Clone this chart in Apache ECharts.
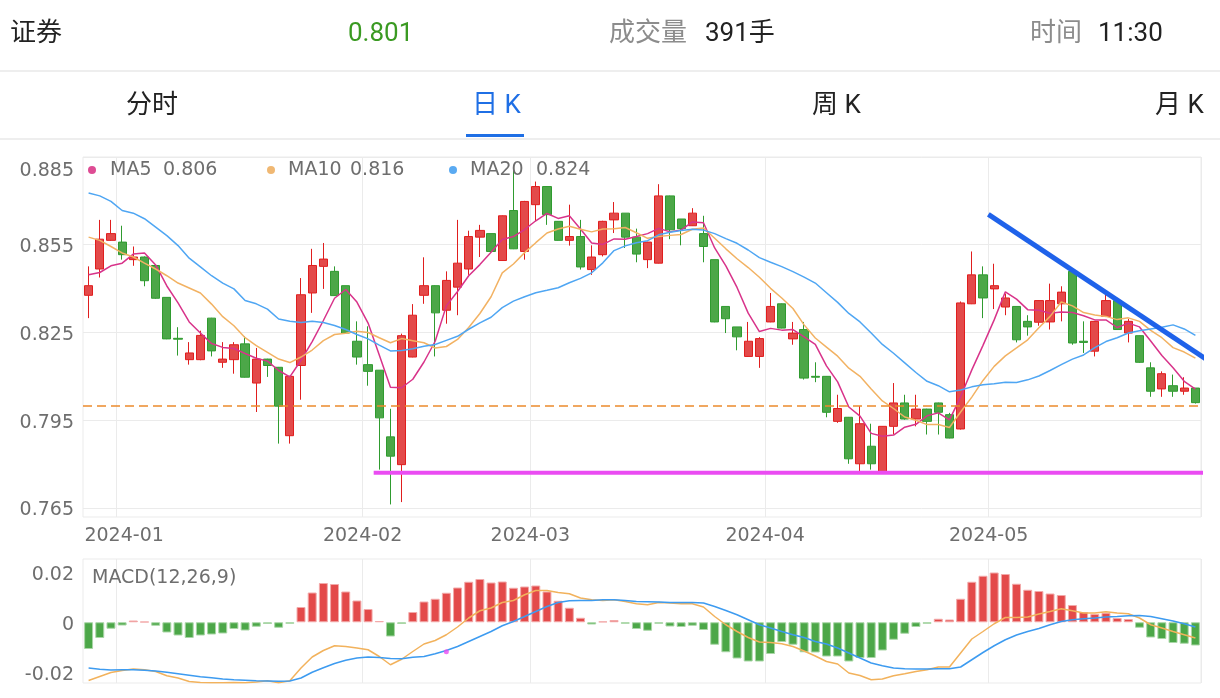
<!DOCTYPE html>
<html><head><meta charset="utf-8">
<script src="https://cdn.jsdelivr.net/npm/echarts@6/dist/echarts.min.js"></script>
<style>html,body{margin:0;padding:0;background:#fff;}#c{width:1220px;height:698px;}</style>
</head><body><div id="c"></div>
<script>
const dates = [
'2023-12-27','2023-12-28','2023-12-29',
'2024-01-02','2024-01-03','2024-01-04','2024-01-05','2024-01-08','2024-01-09','2024-01-10','2024-01-11','2024-01-12',
'2024-01-15','2024-01-16','2024-01-17','2024-01-18','2024-01-19','2024-01-22','2024-01-23','2024-01-24','2024-01-25',
'2024-01-26','2024-01-29','2024-01-30','2024-01-31',
'2024-02-01','2024-02-02','2024-02-05','2024-02-06','2024-02-07','2024-02-08','2024-02-19','2024-02-20','2024-02-21',
'2024-02-22','2024-02-23','2024-02-26','2024-02-27','2024-02-28','2024-02-29',
'2024-03-01','2024-03-04','2024-03-05','2024-03-06','2024-03-07','2024-03-08','2024-03-11','2024-03-12','2024-03-13',
'2024-03-14','2024-03-15','2024-03-18','2024-03-19','2024-03-20','2024-03-21','2024-03-22','2024-03-25','2024-03-26',
'2024-03-27','2024-03-28','2024-03-29',
'2024-04-01','2024-04-02','2024-04-03','2024-04-08','2024-04-09','2024-04-10','2024-04-11','2024-04-12','2024-04-15',
'2024-04-16','2024-04-17','2024-04-18','2024-04-19','2024-04-22','2024-04-23','2024-04-24','2024-04-25','2024-04-26',
'2024-04-29','2024-04-30',
'2024-05-06','2024-05-07','2024-05-08','2024-05-09','2024-05-10','2024-05-13','2024-05-14','2024-05-15','2024-05-16',
'2024-05-17','2024-05-20','2024-05-21','2024-05-22','2024-05-23','2024-05-24','2024-05-27','2024-05-28','2024-05-29',
'2024-05-30'];

const opens = [
.8377,.8467,.8565,.8559,.8499,.8508,.8479,.8370,.8230,.8157,
.8157,.8299,.8148,.8157,.8211,.8077,.8159,.8131,.7897,.8137,
.8385,.8476,.8459,.8410,.8220,.8140,.8121,.7893,.7798,.8166,
.8377,.8410,.8326,.8405,.8467,.8576,.8588,.8496,.8667,.8527,
.8687,.8749,.8630,.8565,.8578,.8465,.8516,.8635,.8658,.8576,
.8499,.8487,.8717,.8638,.8615,.8588,.8499,.8339,.8269,.8168,
.8168,.8286,.8348,.8228,.8260,.8100,.8100,.7946,.7960,.7801,
.7861,.7775,.7929,.8009,.7954,.7988,.8009,.7969,.7920,.8348,
.8447,.8399,.8337,.8339,.8288,.8285,.8286,.8348,.8459,.8220,
.8186,.8305,.8359,.8248,.8239,.8129,.8057,.8068,.8049,.8060];

const closes = [
.8410,.8569,.8588,.8516,.8508,.8427,.8367,.8228,.8227,.8180,
.8240,.8187,.8159,.8208,.8097,.8159,.8137,.7998,.8100,.8379,
.8479,.8501,.8376,.8248,.8166,.8117,.7958,.7827,.8239,.8309,
.8410,.8317,.8428,.8487,.8578,.8599,.8527,.8649,.8536,.8698,
.8749,.8653,.8565,.8578,.8474,.8508,.8630,.8658,.8576,.8518,
.8559,.8717,.8601,.8605,.8658,.8544,.8286,.8297,.8235,.8220,
.8229,.8339,.8265,.8248,.8094,.8097,.7977,.7990,.7818,.7938,
.7801,.7929,.8009,.7954,.7988,.7946,.7977,.7889,.8351,.8447,
.8368,.8410,.8368,.8225,.8269,.8359,.8359,.8388,.8214,.8216,
.8288,.8359,.8260,.8288,.8148,.8049,.8109,.8049,.8060,.8010];

const lows = [
.8299,.8438,.8563,.8499,.8478,.8408,.8365,.8227,.8171,.8140,
.8155,.8168,.8129,.8109,.8096,.7978,.8098,.7870,.7870,.8020,
.8317,.8399,.8375,.8247,.8140,.8068,.7781,.7662,.7670,.8165,
.8348,.8168,.8280,.8309,.8447,.8508,.8522,.8495,.8535,.8499,
.8630,.8618,.8564,.8547,.8465,.8447,.8510,.8590,.8539,.8490,
.8470,.8486,.8569,.8548,.8614,.8490,.8285,.8248,.8189,.8167,
.8129,.8285,.8264,.8208,.8089,.8080,.7960,.7941,.7801,.7775,
.7781,.7772,.7901,.7952,.7929,.7901,.7901,.7888,.7918,.8347,
.8299,.8330,.8309,.8216,.8239,.8273,.8260,.8288,.8208,.8180,
.8168,.8304,.8259,.8216,.8146,.8030,.8030,.8030,.8037,.8007];

const highs = [
.8476,.8635,.8635,.8615,.8544,.8510,.8480,.8370,.8268,.8217,
.8256,.8300,.8217,.8217,.8237,.8197,.8160,.8132,.8102,.8436,
.8536,.8556,.8476,.8410,.8288,.8271,.8121,.7989,.8246,.8347,
.8507,.8411,.8459,.8635,.8598,.8618,.8588,.8650,.8818,.8700,
.8766,.8750,.8631,.8687,.8635,.8548,.8632,.8696,.8658,.8605,
.8560,.8757,.8718,.8638,.8675,.8649,.8499,.8339,.8269,.8286,
.8234,.8385,.8349,.8286,.8286,.8148,.8101,.8037,.7961,.7998,
.7938,.7930,.8077,.8037,.8037,.7989,.8010,.7975,.8356,.8527,
.8476,.8485,.8383,.8339,.8309,.8360,.8417,.8408,.8460,.8288,
.8289,.8379,.8362,.8296,.8240,.8148,.8117,.8106,.8097,.8060];

const ma5 = [
.8447,.8455,.8478,.8487,.8518,.8522,.8481,.8409,.8351,.8286,
.8248,.8212,.8199,.8195,.8178,.8162,.8152,.8120,.8098,.8155,
.8219,.8291,.8367,.8397,.8354,.8282,.8173,.8063,.8061,.8090,
.8149,.8220,.8341,.8390,.8444,.8482,.8524,.8568,.8578,.8602,
.8632,.8657,.8640,.8649,.8604,.8556,.8551,.8570,.8569,.8578,
.8588,.8606,.8594,.8600,.8628,.8625,.8539,.8478,.8404,.8316,
.8253,.8264,.8258,.8260,.8235,.8209,.8136,.8081,.7995,.7964,
.7905,.7895,.7899,.7926,.7936,.7965,.7975,.7951,.8030,.8122,
.8206,.8293,.8389,.8364,.8328,.8326,.8316,.8320,.8318,.8307,
.8293,.8293,.8267,.8282,.8269,.8221,.8171,.8129,.8083,.8056];

const ma10 = [
.8576,.8565,.8544,.8522,.8508,.8487,.8467,.8444,.8419,.8402,
.8385,.8347,.8304,.8273,.8232,.8205,.8182,.8159,.8147,.8166,
.8190,.8222,.8243,.8247,.8254,.8250,.8232,.8215,.8229,.8222,
.8215,.8197,.8202,.8226,.8267,.8315,.8372,.8454,.8484,.8523,
.8557,.8590,.8604,.8613,.8603,.8594,.8604,.8605,.8609,.8591,
.8572,.8578,.8582,.8585,.8603,.8607,.8572,.8536,.8502,.8472,
.8439,.8401,.8368,.8332,.8276,.8231,.8200,.8169,.8128,.8100,
.8057,.8016,.7990,.7961,.7950,.7935,.7935,.7925,.7978,.8029,
.8086,.8134,.8170,.8197,.8225,.8266,.8305,.8354,.8341,.8318,
.8310,.8305,.8294,.8300,.8288,.8257,.8232,.8198,.8183,.8162];

const ma20 = [
.8727,.8717,.8698,.8667,.8658,.8639,.8610,.8581,.8547,.8504,
.8474,.8444,.8419,.8399,.8359,.8348,.8330,.8296,.8288,.8284,
.8288,.8284,.8274,.8260,.8243,.8228,.8207,.8187,.8188,.8194,
.8203,.8209,.8223,.8237,.8261,.8283,.8302,.8335,.8357,.8372,
.8386,.8394,.8403,.8420,.8435,.8454,.8488,.8530,.8546,.8557,
.8564,.8584,.8593,.8599,.8603,.8600,.8588,.8571,.8555,.8532,
.8506,.8490,.8475,.8458,.8439,.8419,.8386,.8353,.8315,.8286,
.8248,.8209,.8179,.8146,.8113,.8083,.8068,.8047,.8053,.8064,
.8071,.8075,.8080,.8079,.8088,.8101,.8120,.8140,.8159,.8173,
.8198,.8219,.8232,.8248,.8256,.8262,.8268,.8276,.8262,.8240];

const macdHist = [
-.0107,-.0063,-.0026,-.0013,.0007,.0002,-.0014,-.0041,-.0053,-.0063,
-.0053,-.0049,-.0045,-.0027,-.0033,-.0018,-.0007,-.0022,-.0006,.0061,
.0119,.0157,.0153,.0123,.0087,.0053,.0005,-.0057,-.0007,.0041,
.0083,.0094,.0118,.0139,.0162,.0173,.0159,.0163,.0138,.0143,
.0147,.0123,.0086,.0058,.0018,-.0009,.0003,.0009,-.0006,-.0027,
-.0034,-.0006,-.0017,-.0019,-.0014,-.0031,-.0090,-.0120,-.0145,-.0157,
-.0157,-.0127,-.0079,-.0090,-.0120,-.0121,-.0137,-.0137,-.0157,-.0143,
-.0143,-.0113,-.0070,-.0046,-.0019,-.0006,.0014,.0011,.0094,.0162,
.0186,.0199,.0193,.0154,.0130,.0125,.0115,.0109,.0069,.0041,
.0033,.0038,.0017,.0013,-.0022,-.0061,-.0067,-.0083,-.0086,-.0093];

const dif = [
-.0233,-.0217,-.0201,-.0193,-.0187,-.0190,-.0197,-.0214,-.0223,-.0237,
-.0241,-.0242,-.0242,-.0241,-.0242,-.0239,-.0234,-.0242,-.0234,-.0183,
-.0139,-.0113,-.0094,-.0097,-.0103,-.0110,-.0137,-.0170,-.0148,-.0117,
-.0087,-.0073,-.0050,-.0019,.0017,.0046,.0057,.0079,.0087,.0110,
.0127,.0127,.0119,.0114,.0097,.0090,.0087,.0090,.0083,.0074,
.0070,.0079,.0077,.0074,.0074,.0061,.0023,-.0010,-.0037,-.0061,
-.0079,-.0081,-.0086,-.0097,-.0115,-.0135,-.0157,-.0167,-.0203,-.0213,
-.0230,-.0227,-.0214,-.0206,-.0197,-.0190,-.0179,-.0179,-.0123,-.0067,
-.0037,-.0006,.0019,.0019,.0021,.0033,.0043,.0054,.0046,.0037,
.0037,.0042,.0037,.0034,.0017,-.0010,-.0023,-.0037,-.0050,-.0063];

const dea = [
-.0183,-.0188,-.0191,-.0190,-.0190,-.0192,-.0195,-.0200,-.0206,-.0212,
-.0218,-.0222,-.0227,-.0230,-.0232,-.0234,-.0235,-.0236,-.0235,-.0223,
-.0200,-.0182,-.0165,-.0152,-.0143,-.0139,-.0141,-.0145,-.0146,-.0140,
-.0137,-.0126,-.0113,-.0097,-.0077,-.0057,-.0037,-.0014,.0003,.0023,
.0043,.0063,.0079,.0086,.0087,.0087,.0090,.0090,.0087,.0083,
.0082,.0081,.0079,.0079,.0079,.0077,.0063,.0047,.0030,.0010,
-.0010,-.0023,-.0037,-.0050,-.0061,-.0077,-.0087,-.0103,-.0123,-.0143,
-.0163,-.0174,-.0183,-.0186,-.0187,-.0187,-.0186,-.0186,-.0179,-.0150,
-.0121,-.0094,-.0070,-.0051,-.0037,-.0025,-.0010,.0003,.0010,.0014,
.0017,.0021,.0023,.0026,.0027,.0023,.0014,.0005,-.0006,-.0019];

const priceTicks = [0.765, 0.795, 0.825, 0.855, 0.885];
const macdTicks = [-0.02, 0, 0.02];
const lastPrice = 0.801;
const supportLine = [[25.5, 0.777], [101.2, 0.777]];
const trendLine = [[80.48, 0.8654], [101.2, 0.8127]];
const macdDot = [[32, -0.0118]];
const header = {name: '证券', price: '0.801', volLabel: '成交量', vol: '391手', timeLabel: '时间', time: '11:30'};
const tabs = ['分时', '日 K', '周 K', '月 K'];

const FONT = "Roboto, 'Noto Sans CJK SC', sans-serif";
const AXFONT = "'DejaVu Sans', sans-serif";
const AXSIZE = 19;
const RED = '#e34a4a', GREEN = '#4ca748';
const GRIDC = '#ebebeb';
const LABELC = '#6e6e6e';

const monthStart = dates.map((d, i) => i > 0 && d.slice(0, 7) !== dates[i - 1].slice(0, 7));
const firstMonth = monthStart.indexOf(true);

const chart = echarts.init(document.getElementById('c'), null, {renderer: 'canvas'});

const candleData = dates.map((d, i) => [opens[i], closes[i], lows[i], highs[i]]);
const histData = macdHist.map(v => ({
  value: v,
  itemStyle: {color: v >= 0 ? RED : GREEN, borderColor: v >= 0 ? '#f2a9a9' : '#a9d6a6', borderWidth: 1}
}));

function txt(t, x, y, size, color, font) {
  return {type: 'text', x: x, y: y, z: 10, style: {text: t, font: size + 'px ' + (font || FONT), fill: color, align: 'left', verticalAlign: 'middle'}};
}

const legendItems = [
  {name: 'MA5', val: ma5[ma5.length - 1], color: '#de4c94', dx: 92, tx: 110, vx: 163},
  {name: 'MA10', val: ma10[ma10.length - 1], color: '#f0b873', dx: 271, tx: 288, vx: 350},
  {name: 'MA20', val: ma20[ma20.length - 1], color: '#5aaaf2', dx: 453, tx: 470, vx: 536}
];

const graphics = [
  txt(header.name, 10, 34, 26, '#222'),
  txt(header.price, 348, 34, 26, '#3a9a22'),
  txt(header.volLabel, 609, 34, 26, '#8c8c8c'),
  txt(header.vol, 705, 34, 26, '#222'),
  txt(header.timeLabel, 1030, 34, 26, '#8c8c8c'),
  txt(header.time, 1098, 34, 26, '#222'),
  {type: 'line', shape: {x1: 0, y1: 71, x2: 1220, y2: 71}, style: {stroke: '#eeeeee', lineWidth: 2}},
  txt(tabs[0], 126, 106, 26, '#222'),
  txt(tabs[1], 472, 106, 26, '#1f6fe5'),
  txt(tabs[2], 812, 106, 26, '#222'),
  txt(tabs[3], 1155, 106, 26, '#222'),
  {type: 'rect', shape: {x: 466, y: 134, width: 58, height: 3}, style: {fill: '#1f6fe5'}},
  {type: 'line', shape: {x1: 0, y1: 139, x2: 1220, y2: 139}, style: {stroke: '#eeeeee', lineWidth: 2}},
  txt('MACD(12,26,9)', 92, 578, AXSIZE, LABELC, AXFONT)
];
legendItems.forEach(it => {
  graphics.push({type: 'circle', shape: {cx: it.dx, cy: 170, r: 4}, style: {fill: it.color}, z: 10});
  graphics.push(txt(it.name, it.tx, 170, AXSIZE, LABELC, AXFONT));
  graphics.push(txt(it.val.toFixed(3), it.vx, 170, AXSIZE, LABELC, AXFONT));
});

const catAxisCommon = {
  type: 'category', data: dates, boundaryGap: true,
  axisLine: {show: false}, axisTick: {show: false},
  splitLine: {show: true, interval: (i) => monthStart[i], lineStyle: {color: GRIDC, width: 1}}
};

const option = {
  animation: false,
  backgroundColor: '#fff',
  graphic: graphics,
  grid: [
    {left: 83, width: 1118, top: 157, height: 360, show: true, borderColor: GRIDC, borderWidth: 1, backgroundColor: 'transparent'},
    {left: 83, width: 1118, top: 559, height: 124, show: true, borderColor: GRIDC, borderWidth: 1, backgroundColor: 'transparent'}
  ],
  xAxis: [
    Object.assign({}, catAxisCommon, {
      gridIndex: 0,
      axisLabel: {
        interval: (i) => monthStart[i], margin: 10,
        formatter: (v, i) => (i === firstMonth ? '{a|' : '{b|') + v.slice(0, 7) + '}',
        rich: {
          a: {fontSize: AXSIZE, color: LABELC, fontFamily: AXFONT, padding: [0, 0, 0, 4]},
          b: {fontSize: AXSIZE, color: LABELC, fontFamily: AXFONT, padding: [0, 11, 0, 0]}
        }
      }
    }),
    Object.assign({}, catAxisCommon, {gridIndex: 1, axisLabel: {show: false}}),
    {type: 'value', gridIndex: 0, min: -0.5, max: 99.5, show: false}
  ],
  yAxis: [
    {
      type: 'value', gridIndex: 0, min: 0.7619, max: 0.885, scale: true,
      axisLine: {show: false},
      axisTick: {show: false, customValues: priceTicks},
      axisLabel: {
        customValues: priceTicks, color: LABELC, fontSize: AXSIZE, fontFamily: AXFONT, margin: 9,
        verticalAlignMaxLabel: 'top',
        formatter: v => (v >= 0.884 ? '{t|' + v.toFixed(3) + '}' : '{m|' + v.toFixed(3) + '}'),
        rich: {
          t: {fontSize: AXSIZE, color: LABELC, fontFamily: AXFONT, padding: [5, 0, 0, 0]},
          m: {fontSize: AXSIZE, color: LABELC, fontFamily: AXFONT, padding: [5, 0, 0, 0]}
        }
      },
      splitLine: {show: true, lineStyle: {color: GRIDC}}
    },
    {
      type: 'value', gridIndex: 1, min: -0.0243, max: 0.0253,
      axisLine: {show: false},
      axisTick: {show: false, customValues: macdTicks},
      axisLabel: {
        customValues: macdTicks, color: LABELC, fontSize: AXSIZE, fontFamily: AXFONT, margin: 9,
        formatter: v => '{m|' + (v === 0 ? '0' : v.toFixed(2)) + '}',
        rich: {m: {fontSize: AXSIZE, color: LABELC, fontFamily: AXFONT, padding: [5, 0, 0, 0]}}
      },
      splitLine: {show: false}
    }
  ],
  series: [
    {
      type: 'candlestick', xAxisIndex: 0, yAxisIndex: 0, barWidth: '78%', data: candleData,
      itemStyle: {color: RED, color0: GREEN, borderColor: '#e01e1e', borderColor0: '#2f9b2f', borderWidth: 1},
      markLine: {
        symbol: 'none', silent: true, label: {show: false},
        lineStyle: {color: '#eb8a2d', type: [9, 5], width: 1.5},
        data: [{yAxis: lastPrice}]
      },
      z: 2
    },
    {type: 'line', name: 'MA5', xAxisIndex: 0, yAxisIndex: 0, data: ma5, symbol: 'none', lineStyle: {width: 1.5, color: '#d8338a'}, z: 3},
    {type: 'line', name: 'MA10', xAxisIndex: 0, yAxisIndex: 0, data: ma10, symbol: 'none', lineStyle: {width: 1.5, color: '#f2b263'}, z: 3},
    {type: 'line', name: 'MA20', xAxisIndex: 0, yAxisIndex: 0, data: ma20, symbol: 'none', lineStyle: {width: 1.5, color: '#4fa6f3'}, z: 3},
    {type: 'line', xAxisIndex: 2, yAxisIndex: 0, data: supportLine, symbol: 'none', clip: false, lineStyle: {width: 4, color: '#ea4cf2'}, z: 5},
    {type: 'line', xAxisIndex: 2, yAxisIndex: 0, data: trendLine, symbol: 'none', clip: false, lineStyle: {width: 5, color: '#1f62ea'}, z: 5},
    {type: 'bar', xAxisIndex: 1, yAxisIndex: 1, data: histData, barWidth: '80%', z: 2},
    {type: 'line', xAxisIndex: 1, yAxisIndex: 1, data: dif, symbol: 'none', lineStyle: {width: 1.5, color: '#f2b25c'}, z: 3},
    {type: 'line', xAxisIndex: 1, yAxisIndex: 1, data: dea, symbol: 'none', lineStyle: {width: 1.5, color: '#3d9bf0'}, z: 3},
    {type: 'scatter', xAxisIndex: 1, yAxisIndex: 1, data: macdDot, symbolSize: 5, itemStyle: {color: '#ea4cf2'}, z: 4}
  ]
};
chart.setOption(option);
</script></body></html>
